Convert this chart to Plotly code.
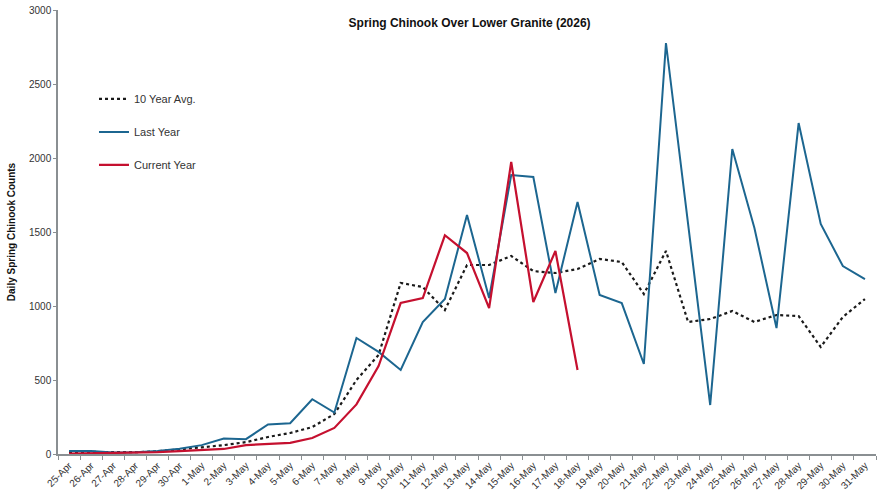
import plotly.graph_objects as go

dates = ["25-Apr", "26-Apr", "27-Apr", "28-Apr", "29-Apr", "30-Apr",
         "1-May", "2-May", "3-May", "4-May", "5-May", "6-May", "7-May", "8-May",
         "9-May", "10-May", "11-May", "12-May", "13-May", "14-May", "15-May",
         "16-May", "17-May", "18-May", "19-May", "20-May", "21-May", "22-May",
         "23-May", "24-May", "25-May", "26-May", "27-May", "28-May", "29-May",
         "30-May", "31-May"]

ten_year_avg = [15, 15, 10, 12, 18, 30, 45, 60, 80, 115, 142, 182, 270, 500,
                669, 1156, 1128, 973, 1277, 1277, 1338, 1236, 1223, 1250, 1318,
                1297, 1081, 1372, 892, 912, 966, 892, 939, 932, 723, 926, 1047]

last_year = [20, 20, 10, 12, 20, 35, 60, 105, 100, 200, 208, 370, 280, 784,
             690, 568, 892, 1047, 1615, 1054, 1885, 1872, 1088, 1703, 1074,
             1020, 608, 2777, 1555, 331, 2061, 1527, 851, 2236, 1554, 1270, 1182]

current_year = [2, 5, 5, 8, 12, 20, 27, 34, 60, 68, 75, 108, 176, 335, 594,
                1020, 1054, 1478, 1358, 986, 1973, 1027, 1372, 568]

fig = go.Figure()
fig.add_trace(go.Scatter(x=dates, y=ten_year_avg, mode="lines", name="10 Year Avg.",
                         line=dict(color="#1a1a1a", width=2.2, dash="dot"), legend="legend"))
fig.add_trace(go.Scatter(x=dates, y=last_year, mode="lines", name="Last Year",
                         line=dict(color="#1c6690", width=2), legend="legend2"))
fig.add_trace(go.Scatter(x=dates[:len(current_year)], y=current_year, mode="lines",
                         name="Current Year",
                         line=dict(color="#c5102f", width=2.2), legend="legend3"))

leg_common = dict(x=0.044, xanchor="left", yanchor="middle", bgcolor="rgba(0,0,0,0)",
                  font=dict(family="Liberation Sans, Arial", size=11, color="#333333"),
                  itemwidth=30)

fig.update_layout(
    width=886, height=500,
    showlegend=True,
    margin=dict(l=58, r=10, t=10, b=46),
    paper_bgcolor="white", plot_bgcolor="white",
    title=dict(text="<b>Spring Chinook Over Lower Granite (2026)</b>",
               x=0.53, xanchor="center", y=0.955, yanchor="middle",
               font=dict(family="Liberation Sans, Arial", size=12, color="#111111")),
    legend=dict(y=0.80, **leg_common),
    legend2=dict(y=0.725, **leg_common),
    legend3=dict(y=0.651, **leg_common),
    xaxis=dict(type="category", range=[-0.5, 36.5], tickson="boundaries",
               automargin=False,
               showline=True, linecolor="#8a8f92", linewidth=1.5,
               ticks="outside", ticklen=4, tickcolor="#8a8f92",
               tickangle=-45, showgrid=False,
               tickfont=dict(family="Liberation Sans, Arial", size=10, color="#333333")),
    yaxis=dict(range=[0, 3000], dtick=500, tickformat="d", automargin=False,
               showline=True, linecolor="#8a8f92", linewidth=1.5,
               ticks="outside", ticklen=3, tickcolor="#8a8f92",
               showgrid=False, zeroline=False,
               title=dict(text="<b>Daily Spring Chinook Counts</b>", standoff=12,
                          font=dict(family="Liberation Sans, Arial", size=10, color="#111111")),
               tickfont=dict(family="Liberation Sans, Arial", size=10, color="#333333")),
)

fig.write_html("out.html")
